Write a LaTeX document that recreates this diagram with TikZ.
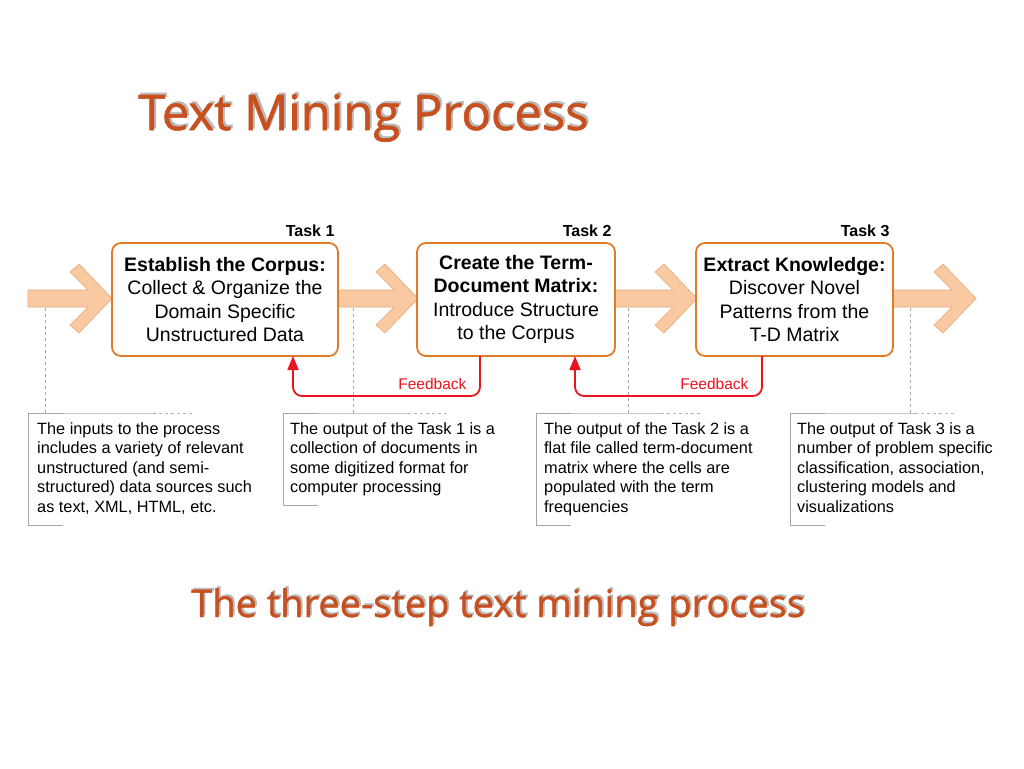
\documentclass[tikz,border=0pt]{standalone}
\usepackage{fontspec}
\setmainfont{Liberation Sans}
\newfontfamily\titlefont[FakeBold=1.2]{Open Sans}
\usetikzlibrary{arrows.meta}
\definecolor{ttl}{HTML}{C8501E}
\definecolor{boxc}{HTML}{E07B28}
\definecolor{arrf}{HTML}{F9C9A1}
\definecolor{arrd}{HTML}{E8A878}
\definecolor{fb}{HTML}{E8141E}
\newcommand\chevarrow[2]{%
 \fill[arrf,draw=arrd,line width=0.6pt] (#1,290) -- ({#2-24},290) -- ({#2-42},272) -- ({#2-33},264) -- (#2,298.5) -- ({#2-33},333) -- ({#2-42},325) -- ({#2-24},307) -- (#1,307) -- cycle;}
\newcommand\callout[4]{% x0, y bottom, dashed x, name
 \draw[gray!70,line width=0.6pt] (#1+35,413) -- (#1,413) -- (#1,#2) -- (#1+35,#2);
 \draw[gray!45,line width=0.6pt] (#1+35,413) -- (#1+125,413);
 \draw[gray!60,dashed,line width=0.6pt] (#1+125,413) -- (#1+165,413);
 \draw[gray!70,dashed,line width=0.5pt] (#3,308) -- (#3,413);}
\begin{document}
\begin{tikzpicture}[x=1pt,y=-1pt,
 task/.style={rounded corners=9pt,draw=boxc,line width=1.8pt,fill=white,align=center,font=\fontsize{19.5}{23.5}\selectfont,inner sep=0pt},
 tlab/.style={anchor=base east,font=\bfseries\fontsize{16}{18}\selectfont},
 note/.style={anchor=north west,align=left,font=\fontsize{16.3}{19.5}\selectfont,inner sep=0pt},
 fbl/.style={fb,line width=1.8pt,rounded corners=9pt,-{Triangle[length=14pt,width=11pt]}},
 fbt/.style={fb,anchor=base east,font=\fontsize{15.5}{17}\selectfont}]
\useasboundingbox (0,0) rectangle (1024,768);
\node[ttl,font=\titlefont\fontsize{49}{54}\selectfont,anchor=base west,inner sep=0pt] (title) at (138,130) {\tikz[baseline]{\node[inner sep=0pt,anchor=base west,text=gray!55] at (2,-2) {Text Mining Process};\node[inner sep=0pt,anchor=base west] at (0,0) {Text Mining Process};}};
\node[ttl,font=\titlefont\fontsize{38}{44}\selectfont,anchor=base,inner sep=0pt] (sub) at (499,617) {\tikz[baseline]{\node[inner sep=0pt,anchor=base,text=gray!55] at (1.8,-1.8) {The three-step text mining process};\node[inner sep=0pt,anchor=base] at (0,0) {The three-step text mining process};}};
\chevarrow{28}{112}
\chevarrow{338}{418}
\chevarrow{615}{697}
\chevarrow{893}{976}
\callout{28}{525}{45}{c1}
\callout{283}{505}{353}{c2}
\callout{536}{525}{628}{c3}
\callout{790}{525}{910}{c4}
\node[task,minimum width=226pt,minimum height=113pt] (b1) at (225,299.5) {\textbf{Establish the Corpus:}\\Collect \& Organize the\\Domain Specific\\Unstructured Data};
\node[task,minimum width=198pt,minimum height=113pt] (b2) at (516,299.5) {\textbf{Create the Term-}\\\textbf{Document Matrix:}\\Introduce Structure\\to the Corpus};
\node[task,minimum width=197pt,minimum height=113pt] (b3) at (794.5,299.5) {\textbf{Extract Knowledge:}\\Discover Novel\\Patterns from the\\T-D Matrix};
\node[tlab] (t1) at (338,236) {Task 1};
\node[tlab] (t2) at (615,236) {Task 2};
\node[tlab] (t3) at (893,236) {Task 3};
\coordinate (f1a) at (480,356); \coordinate (f1b) at (293,356);
\coordinate (f2a) at (762,356); \coordinate (f2b) at (575,356);
\draw[fbl] (f1a) -- (480,396) -- (293,396) -- (f1b);
\draw[fbl] (f2a) -- (762,396) -- (575,396) -- (f2b);
\node[fbt] (fb1) at (470,389) {Feedback};
\node[fbt] (fb2) at (752,389) {Feedback};
\node[note] (n1) at (37,422) {The inputs to the process\\includes a variety of relevant\\unstructured (and semi-\\structured) data sources such\\as text, XML, HTML, etc.};
\node[note] (n2) at (290,422) {The output of the Task 1 is a\\collection of documents in\\some digitized format for\\computer processing};
\node[note] (n3) at (544,422) {The output of the Task 2 is a\\flat file called term-document\\matrix where the cells are\\populated with the term\\frequencies};
\node[note] (n4) at (797,422) {The output of Task 3 is a\\number of problem specific\\classification, association,\\clustering models and\\visualizations};
\end{tikzpicture}
\end{document}
